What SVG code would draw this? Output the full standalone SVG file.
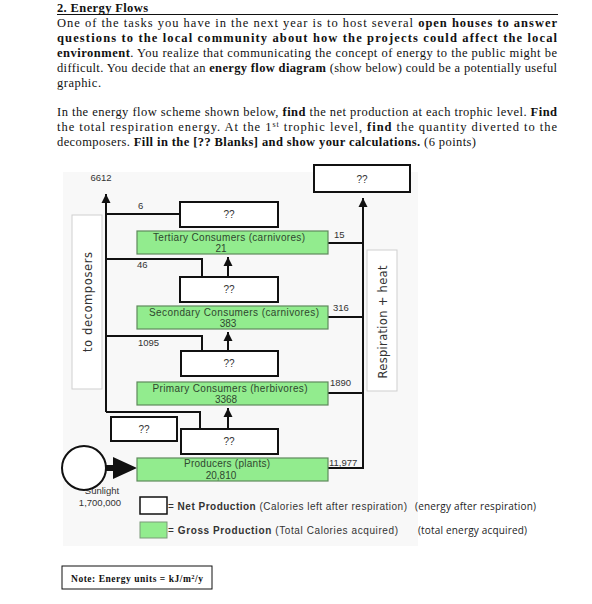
<svg xmlns="http://www.w3.org/2000/svg" width="592" height="604" viewBox="0 0 592 604">
<style>
.p{font-family:"Liberation Serif","Times New Roman",serif;font-size:12.5px;fill:#111}
.b{font-weight:bold}
.lbl{font-family:"Liberation Sans",Arial,sans-serif;font-size:10px;fill:#333}
.g{font-family:"Liberation Sans",Arial,sans-serif;font-size:10px;fill:#2f472f}
.num{font-family:"Liberation Sans",Arial,sans-serif;font-size:9.5px;fill:#333}
.vt{font-family:"DejaVu Sans",Verdana,sans-serif;font-size:11.5px;fill:#333}
.cal{font-family:"Open Sans","Liberation Sans",sans-serif;font-size:10px;fill:#222}
.nb{fill:#fff;stroke:#111;stroke-width:2}
.gb{fill:#92ec8e;stroke:#5f8a5c;stroke-width:1.2}
.ln{fill:none;stroke:#111;stroke-width:2}
.side{fill:#fff;stroke:#cfcfcf;stroke-width:1}
</style>
<defs>
<marker id="ah" viewBox="0 0 10 10" refX="10" refY="5" markerWidth="4.5" markerHeight="5" orient="auto" markerUnits="strokeWidth">
<path d="M0,0 L10,5 L0,10 z" fill="#111"/>
</marker>
</defs>
<rect width="592" height="604" fill="#fff"/>
<g id="header">
<text class="p b" x="57" y="12" textLength="91">2. Energy Flows</text>
<line x1="57" y1="14.5" x2="558" y2="14.5" stroke="#111" stroke-width="1"/>
<text class="p" x="57" y="27" textLength="500" lengthAdjust="spacing">One of the tasks you have in the next year is to host several <tspan class="b">open houses to answer</tspan></text>
<text class="p b" x="57" y="42" textLength="500" lengthAdjust="spacing">questions to the local community about how the projects could affect the local</text>
<text class="p" x="57" y="57" textLength="500" lengthAdjust="spacing"><tspan class="b">environment</tspan>. You realize that communicating the concept of energy to the public might be</text>
<text class="p" x="57" y="72" textLength="500" lengthAdjust="spacing">difficult. You decide that an <tspan class="b">energy flow diagram</tspan> (show below) could be a potentially useful</text>
<text class="p" x="57" y="87" textLength="44" lengthAdjust="spacing">graphic.</text>
<text class="p" x="57" y="116" textLength="500" lengthAdjust="spacing">In the energy flow scheme shown below, <tspan class="b">find</tspan> the net production at each trophic level.  <tspan class="b">Find</tspan></text>
<text class="p" x="57" y="131" textLength="500" lengthAdjust="spacing">the total respiration energy.  At the 1<tspan font-size="8" dy="-4">st</tspan><tspan dy="4"> trophic level, </tspan><tspan class="b">find</tspan> the quantity diverted to the</text>
<text class="p" x="57" y="146" textLength="419" lengthAdjust="spacing">decomposers. <tspan class="b">Fill in the [?? Blanks] and show your calculations.</tspan> (6 points)</text>
</g>
<rect id="bg" x="63" y="172" width="355" height="374" fill="#f8f8f8"/>
<g id="side-labels">
<rect class="side" x="72" y="215" width="30" height="174"/>
<text class="vt" transform="translate(92,302) rotate(-90)" text-anchor="middle" textLength="100">to decomposers</text>
<rect class="side" x="367" y="250" width="30" height="141"/>
<text class="vt" transform="translate(387,322) rotate(-90)" text-anchor="middle" textLength="113">Respiration + heat</text>
</g>
<g id="connectors">
<path class="ln" d="M106,412 V194" marker-end="url(#ah)"/>
<path class="ln" d="M106,214 H180"/>
<path class="ln" d="M106,259 H202 V277"/>
<path class="ln" d="M106,336 H202 V351"/>
<path class="ln" d="M106,412 H200 V429"/>
<path class="ln" d="M228,277 V257" marker-end="url(#ah)"/>
<path class="ln" d="M228,351 V332" marker-end="url(#ah)"/>
<path class="ln" d="M228,429 V408" marker-end="url(#ah)"/>
<path class="ln" d="M328,243 H363"/>
<path class="ln" d="M328,317 H363"/>
<path class="ln" d="M328,393 H363"/>
<path class="ln" d="M328,468 H363 V198" marker-end="url(#ah)"/>
<path d="M106,465 H113 V457 L137,468 L113,479 V471 H106 z" fill="#111"/>
</g>
<g id="labels">
<text class="num" x="101" y="181" text-anchor="middle">6612</text>
<text class="num" x="138" y="209">6</text>
<text class="num" x="137" y="268">46</text>
<text class="num" x="138" y="346">1095</text>
<text class="num" x="334" y="238">15</text>
<text class="num" x="333" y="311">316</text>
<text class="num" x="330" y="386">1890</text>
<text class="num" x="329" y="466">11,977</text>
</g>
<g id="net-top">
<rect class="nb" x="314" y="165" width="96" height="27"/>
<text class="lbl" x="362" y="183" text-anchor="middle">??</text>
</g>
<g id="net-tertiary">
<rect class="nb" x="180" y="202" width="98" height="25"/>
<text class="lbl" x="229" y="218" text-anchor="middle">??</text>
</g>
<g id="tertiary">
<rect class="gb" x="137" y="231" width="191" height="23"/>
<text class="g" x="229" y="241" text-anchor="middle" textLength="152">Tertiary Consumers (carnivores)</text>
<text class="g" x="221" y="252" text-anchor="middle">21</text>
</g>
<g id="net-secondary">
<rect class="nb" x="180" y="277" width="98" height="25"/>
<text class="lbl" x="229" y="293" text-anchor="middle">??</text>
</g>
<g id="secondary">
<rect class="gb" x="137" y="306" width="191" height="23"/>
<text class="g" x="234" y="316" text-anchor="middle" textLength="170">Secondary Consumers (carnivores)</text>
<text class="g" x="228" y="327" text-anchor="middle">383</text>
</g>
<g id="net-primary">
<rect class="nb" x="181" y="351" width="97" height="25"/>
<text class="lbl" x="229" y="367" text-anchor="middle">??</text>
</g>
<g id="primary">
<rect class="gb" x="137" y="382" width="191" height="23"/>
<text class="g" x="230" y="392" text-anchor="middle" textLength="155">Primary Consumers (herbivores)</text>
<text class="g" x="226" y="403" text-anchor="middle">3368</text>
</g>
<g id="decomp-1">
<rect class="nb" x="111" y="417" width="66" height="24"/>
<text class="lbl" x="144" y="433" text-anchor="middle">??</text>
</g>
<g id="net-producers">
<rect class="nb" x="181" y="429" width="97" height="25"/>
<text class="lbl" x="229" y="445" text-anchor="middle">??</text>
</g>
<g id="producers">
<rect class="gb" x="137" y="458" width="191" height="23"/>
<text class="g" x="227" y="467" text-anchor="middle" textLength="86">Producers (plants)</text>
<text class="g" x="221" y="479" text-anchor="middle">20,810</text>
</g>
<g id="sunlight">
<text class="num" x="102" y="494" text-anchor="middle" font-size="10">Sunlight</text>
<circle cx="84" cy="468" r="22" fill="#fff" stroke="#111" stroke-width="2"/>
<text class="num" x="100" y="506" text-anchor="middle" font-size="10">1,700,000</text>
</g>
<g id="legend">
<rect x="140" y="497" width="27" height="17" fill="#fff" stroke="#111" stroke-width="1.5"/>
<text class="lbl" x="168" y="510" textLength="239" lengthAdjust="spacing">= <tspan font-weight="bold">Net Production</tspan> (Calories left after respiration)</text>
<text class="cal" x="415" y="510" textLength="121">(energy after respiration)</text>
<rect x="140" y="522" width="27" height="16" fill="#92ec8e" stroke="#7a9a78" stroke-width="1"/>
<text class="lbl" x="168" y="534" textLength="230" lengthAdjust="spacing">= <tspan font-weight="bold">Gross Production</tspan> (Total Calories acquired)</text>
<text class="cal" x="418" y="534" textLength="109">(total energy acquired)</text>
</g>
<g id="note">
<rect x="62" y="566" width="150" height="23" fill="#fff" stroke="#111" stroke-width="1"/>
<text x="71" y="582" font-family="Liberation Serif,Times New Roman,serif" font-size="9.5" font-weight="bold" fill="#111" textLength="132">Note: Energy units = kJ/m<tspan font-size="6.5" dy="-3.5">2</tspan><tspan dy="3.5">/y</tspan></text>
</g>
</svg>
